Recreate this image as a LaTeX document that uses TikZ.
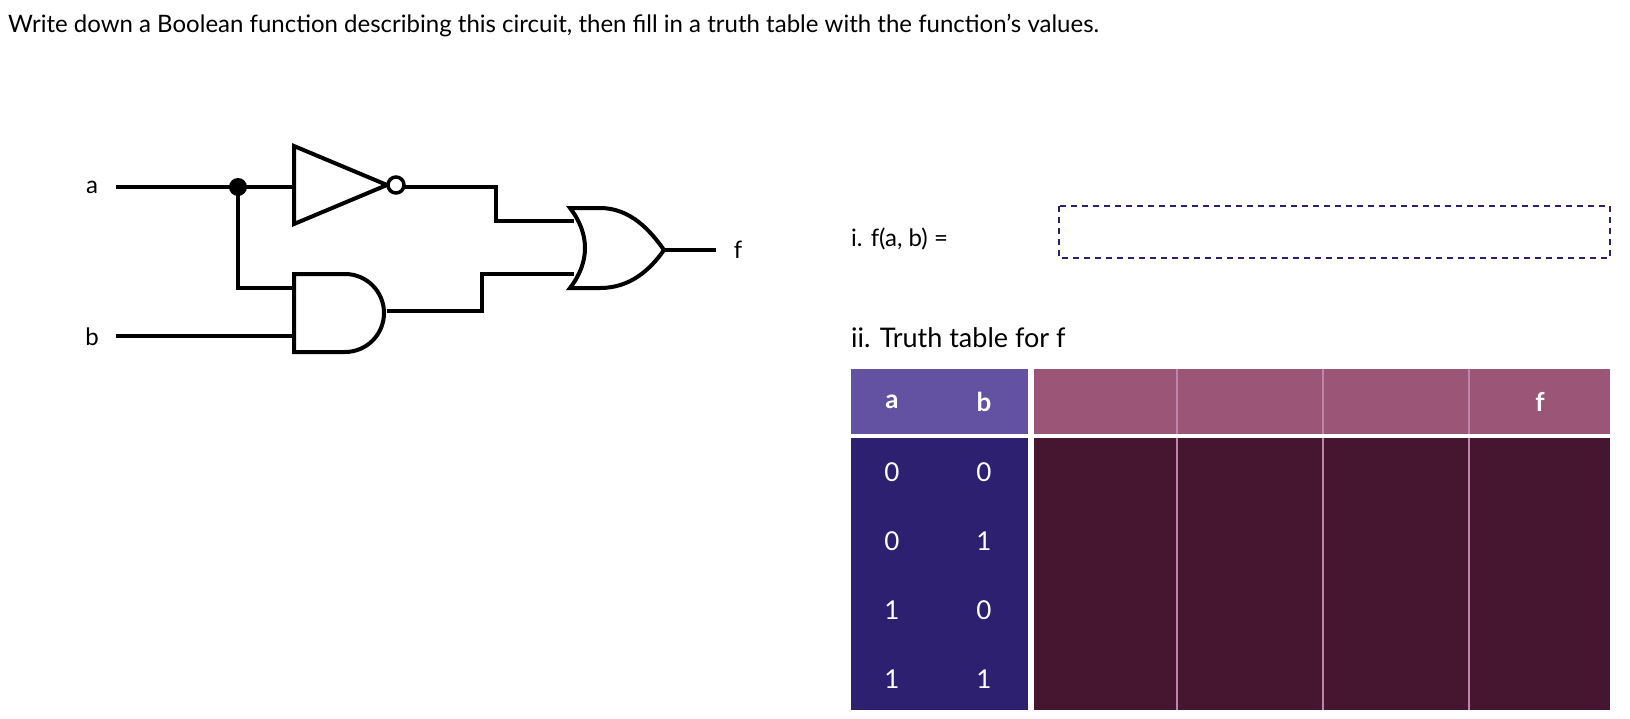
\documentclass[tikz,border=0pt]{standalone}
\usepackage{fontspec}
\setmainfont{Lato}
\definecolor{hdrA}{HTML}{6351A2}
\definecolor{hdrB}{HTML}{9B5577}
\definecolor{bodyA}{HTML}{2E2070}
\definecolor{bodyB}{HTML}{461630}
\definecolor{sep}{HTML}{C084AA}
\definecolor{dashcol}{HTML}{2E2070}
\begin{document}
\begin{tikzpicture}[x=1pt,y=-1pt,
  wire/.style={line width=4pt,line join=miter},
  gate/.style={line width=4pt,fill=white,line join=miter},
  lbl/.style={font=\fontsize{24}{28}\selectfont,inner sep=0pt},
  cell/.style={font=\fontsize{26}{30}\selectfont,text=white,inner sep=0pt},
  hcell/.style={font=\fontsize{26}{30}\selectfont\bfseries,text=white,inner sep=0pt}]
\useasboundingbox (0,0) rectangle (1630,718);
\node[lbl,anchor=west] (title) at (8,26) {Write down a Boolean function describing this circuit, then fill in a truth table with the function's values.};
% circuit labels
\node[lbl] (la) at (92,187) {a};
\node[lbl] (lb) at (92,337) {b};
\node[lbl] (lf) at (738,250) {f};
% coordinates
\coordinate (ain) at (116,187);
\coordinate (j) at (238,187);
\coordinate (notin) at (294,187);
\coordinate (bin) at (116,336);
\coordinate (andb) at (294,336);
\coordinate (anda) at (294,288);
\coordinate (andout) at (387,311);
\coordinate (bub) at (396,185);
\coordinate (orin1) at (574,221);
\coordinate (orin2) at (574,274);
\coordinate (orout) at (664,250);
\coordinate (fend) at (716,250);
% wires
\draw[wire] (ain) -- (notin);
\draw[wire] (j) |- (anda);
\draw[wire] (bin) -- (andb);
\draw[wire] (404,187) -- (496,187) |- (orin1);
\draw[wire] (andout) -- (482,311) |- (orin2);
\draw[wire] (orout) -- (fend);
% NOT gate
\draw[gate] (294,146) -- (387,185) -- (294,224) -- cycle;
\draw[line width=3.5pt,fill=white] (bub) circle (8);
% AND gate
\draw[gate] (294,274) -- (345,274) arc[start angle=-90,end angle=90,radius=39] -- (294,352) -- cycle;
% OR gate
\draw[gate] (570,208) -- (600,208) .. controls (630,208) and (650,230) .. (664,250)
  .. controls (650,270) and (630,288) .. (600,288) -- (570,288)
  .. controls (590,262) and (590,234) .. (570,208) -- cycle;
\fill (j) circle (9);
% right side
\node[lbl,anchor=west] (fi) at (851,239) {i. f(a, b) =};
\draw[dashcol,line width=1.5pt,dash pattern=on 6pt off 5pt] (1059,206) rectangle (1610,258);
\node[font=\fontsize{27}{31}\selectfont,anchor=west,inner sep=0pt] (tt) at (851,338) {ii. Truth table for f};
% table
\fill[hdrA] (851,369) rectangle (1028,434);
\fill[hdrB] (1034,369) rectangle (1610,434);
\fill[bodyA] (851,438) rectangle (1028,710);
\fill[bodyB] (1034,438) rectangle (1610,710);
\foreach \x in {1177,1323,1469} \draw[sep,line width=2pt] (\x,369) -- (\x,710);
\draw[white,line width=4pt] (851,436) -- (1610,436);
\node[hcell] (ha) at (892,402) {a};
\node[hcell] (hb) at (984,402) {b};
\node[hcell] (hf) at (1540,402) {f};
\node[cell] (r1a) at (892,472) {0}; \node[cell] (r1b) at (984,472) {0};
\node[cell] (r2a) at (892,541) {0}; \node[cell] (r2b) at (984,541) {1};
\node[cell] (r3a) at (892,610) {1}; \node[cell] (r3b) at (984,610) {0};
\node[cell] (r4a) at (892,679) {1}; \node[cell] (r4b) at (984,679) {1};
\end{tikzpicture}
\end{document}
